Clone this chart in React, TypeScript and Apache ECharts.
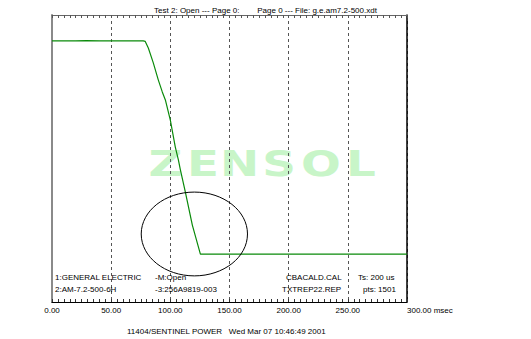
import React, { useEffect, useRef } from "react";
import * as echarts from "echarts";

// Time (msec) and trace values (arbitrary units, axis 0..100)
const times = [0, 20, 29, 40, 60, 77.1, 78.8, 81.4, 85.6, 89.8, 93.2, 95.8, 100, 104.2, 106.8, 108.5, 112.7, 118.6, 125.4, 150, 200, 250, 300];
const values = [91.0, 91.0, 91.1, 91.0, 91.0, 91.0, 90.8, 88.5, 83.3, 77.4, 73.2, 70.4, 63.4, 54.0, 49.5, 46.0, 38.3, 26.8, 16.7, 16.7, 16.7, 16.7, 16.7];
const xTicks = [0, 50, 100, 150, 200, 250, 300];
const xUnit = "msec";
const titleText = "Test 2: Open --- Page 0:        Page 0 --- File: g.e.am7.2-500.xdt";
const footerText = "11404/SENTINEL POWER   Wed Mar 07 10:46:49 2001";
const infoLeft = ["1:GENERAL ELECTRIC", "2:AM-7.2-500-6H"];
const infoMid = ["-M:Open", "-3:256A9819-003"];
const infoRight = ["CBACALD.CAL", "TXTREP22.REP"];
const infoFar = ["Ts: 200 us", "pts: 1501"];
const watermark = ["Z", "E", "N", "S", "O", "L"];
// ellipse annotation in data units: center time, center value, radius time, radius value
const ellipseData = [120.3, 23.7, 44.9, 14.6];

const FONT = "Liberation Sans, Arial, sans-serif";

export default function App() {
  const ref = useRef<HTMLDivElement>(null);
  useEffect(() => {
    const chart = echarts.init(ref.current!, null, { renderer: "svg" });
    const txt = (x: number, y: number, s: string, extra: any = {}) => ({
      type: "text",
      x,
      y,
      silent: true,
      style: { text: s, fill: "#000", font: `8px ${FONT}`, textVerticalAlign: "middle", ...extra },
    });
    const graphics: any[] = [
      txt(265.5, 10, titleText, { textAlign: "center" }),
      txt(127, 331, footerText),
      txt(55, 277, infoLeft[0]),
      txt(55, 289, infoLeft[1]),
      txt(155, 277, infoMid[0]),
      txt(155, 289, infoMid[1]),
      txt(286, 277, infoRight[0]),
      txt(282, 289, infoRight[1]),
      txt(358, 277, infoFar[0]),
      txt(363, 289, infoFar[1]),
    ];
    const letterX = [165.5, 203, 239.5, 279, 321, 361];
    watermark.forEach((l, i) => {
      graphics.push({
        type: "text",
        x: letterX[i],
        y: 163,
        silent: true,
        z: -1,
        scaleX: 1.3,
        style: {
          text: l,
          fill: "#c8f5c8",
          font: `bold 36px "DejaVu Sans", sans-serif`,
          textAlign: "center",
          textVerticalAlign: "middle",
          textShadowColor: "#b8b8b8",
          textShadowOffsetX: 1,
          textShadowOffsetY: 1,
        },
      });
    });
    const tickStyle = (color: string) => ({ show: true, inside: true, length: 3, lineStyle: { color } });
    const baseOption: any = {
      animation: false,
      grid: { left: 52, right: 124, top: 15, bottom: 37, containLabel: false },
      xAxis: [
        {
          type: "value",
          min: 0,
          max: 300,
          interval: 50,
          position: "bottom",
          axisLine: { show: true, onZero: false, lineStyle: { color: "#000", width: 1 } },
          axisTick: tickStyle("#333"),
          minorTick: { show: true, splitNumber: 10, length: 3, lineStyle: { color: "#333" } },
          splitLine: { show: true, lineStyle: { type: [3, 3], color: "#555", width: 1 } },
          axisLabel: {
            show: true,
            margin: 4,
            fontSize: 8,
            fontFamily: FONT,
            color: "#000",
            alignMaxLabel: "left",
            customValues: xTicks,
            formatter: (v: number) => (v === 300 ? `${v.toFixed(2)} ${xUnit}` : v.toFixed(2)),
          },
        },
        {
          type: "value",
          min: 0,
          max: 300,
          interval: 50,
          position: "top",
          axisLine: { show: true, onZero: false, lineStyle: { color: "#666", width: 1 } },
          axisTick: tickStyle("#555"),
          minorTick: { show: true, splitNumber: 10, length: 3, lineStyle: { color: "#555" } },
          splitLine: { show: false },
          axisLabel: { show: false },
        },
      ],
      yAxis: [
        {
          type: "value",
          min: 0,
          max: 100,
          position: "left",
          axisLine: { show: true, onZero: false, lineStyle: { color: "#8a8a8a", width: 2 } },
          axisTick: { show: false },
          axisLabel: { show: false },
          splitLine: { show: false },
        },
        {
          type: "value",
          min: 0,
          max: 100,
          position: "right",
          axisLine: { show: true, onZero: false, lineStyle: { color: "#000", width: 1.5 } },
          axisTick: { show: false },
          axisLabel: { show: false },
          splitLine: { show: false },
        },
      ],
      series: [
        {
          type: "line",
          data: times.map((t, i) => [t, values[i]]),
          showSymbol: false,
          symbol: "none",
          lineStyle: { color: "#0a8a0a", width: 1.2 },
          z: 3,
        },
      ],
      graphic: graphics,
    };
    chart.setOption(baseOption);
    const c = chart.convertToPixel({ gridIndex: 0 }, [ellipseData[0], ellipseData[1]]) as number[];
    const e = chart.convertToPixel({ gridIndex: 0 }, [ellipseData[0] + ellipseData[2], ellipseData[1] + ellipseData[3]]) as number[];
    graphics.push({
      type: "ellipse",
      silent: true,
      z: 10,
      shape: { cx: c[0], cy: c[1], rx: Math.abs(e[0] - c[0]), ry: Math.abs(e[1] - c[1]) },
      style: { fill: "none", stroke: "#000", lineWidth: 1 },
    });
    chart.setOption({ graphic: graphics }, { replaceMerge: ["graphic"] });
    return () => chart.dispose();
  }, []);
  return (
    <div
      ref={ref}
      style={{ position: "absolute", left: 0, top: 0, width: 531, height: 339, background: "#fff" }}
    />
  );
}
